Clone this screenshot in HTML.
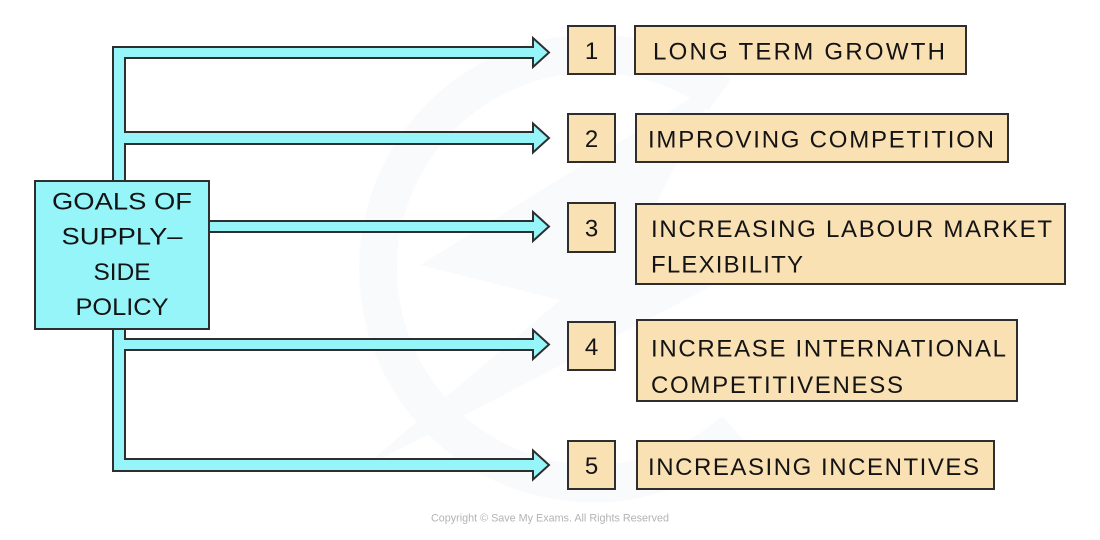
<!DOCTYPE html>
<html>
<head>
<meta charset="utf-8">
<style>
  html, body { margin: 0; padding: 0; background: #ffffff; }
  body { width: 1100px; height: 540px; overflow: hidden; }
  svg { display: block; }
  text { font-family: "Liberation Sans", "DejaVu Sans", sans-serif; fill: #141414; }
</style>
</head>
<body>
<svg width="1100" height="540" viewBox="0 0 1100 540" xmlns="http://www.w3.org/2000/svg">
  <!-- faint watermark -->
  <g opacity="0.3">
    <path d="M720,95 A215,215 0 1,0 735,430" fill="none" stroke="#eef1f5" stroke-width="38"/>
    <polygon points="720,80 420,265 560,300 360,470 800,240 650,215" fill="#eef1f5"/>
  </g>

  <!-- main pipe with arrows 1,2,4,5 -->
  <path d="M113,47 L533,47 L533,38 L549,52.5 L533,67 L533,58 L125,58
           L125,132 L533,132 L533,123.5 L549,138 L533,152.5 L533,144 L125,144
           L125,339 L533,339 L533,330 L549,344.5 L533,359 L533,350 L125,350
           L125,459 L533,459 L533,450.5 L549,465 L533,479.5 L533,471 L113,471 Z"
        fill="#96f5f9" stroke="#2e2e2e" stroke-width="2" stroke-linejoin="miter"/>

  <!-- arrow 3 from box -->
  <path d="M200,221 L533,221 L533,212 L549,226.5 L533,241 L533,232 L200,232 Z"
        fill="#96f5f9" stroke="#2e2e2e" stroke-width="2"/>

  <!-- left box -->
  <rect x="35" y="181" width="174" height="148" fill="#96f5f9" stroke="#2e2e2e" stroke-width="2"/>
  <text x="122" y="209.5" font-size="24" text-anchor="middle" textLength="140" lengthAdjust="spacingAndGlyphs">GOALS OF</text>
  <text x="122" y="244.5" font-size="24" text-anchor="middle" textLength="121" lengthAdjust="spacingAndGlyphs">SUPPLY–</text>
  <text x="122" y="280" font-size="24" text-anchor="middle" textLength="57" lengthAdjust="spacingAndGlyphs">SIDE</text>
  <text x="122" y="315" font-size="24" text-anchor="middle" textLength="93" lengthAdjust="spacingAndGlyphs">POLICY</text>

  <!-- number boxes -->
  <g fill="#f9e1b4" stroke="#2e2e2e" stroke-width="2">
    <rect x="568" y="26" width="47" height="48"/>
    <rect x="568" y="114" width="47" height="48"/>
    <rect x="568" y="203" width="47" height="49"/>
    <rect x="568" y="322" width="47" height="48"/>
    <rect x="568" y="441" width="47" height="48"/>
  </g>
  <g font-size="24" text-anchor="middle">
    <text x="591.5" y="59">1</text>
    <text x="591.5" y="147">2</text>
    <text x="591.5" y="236.5">3</text>
    <text x="591.5" y="355">4</text>
    <text x="591.5" y="474">5</text>
  </g>

  <!-- text boxes -->
  <g fill="#f9e1b4" stroke="#2e2e2e" stroke-width="2">
    <rect x="635" y="26" width="331" height="48"/>
    <rect x="636" y="114" width="372" height="48"/>
    <rect x="636" y="204" width="429" height="80"/>
    <rect x="637" y="320" width="380" height="81"/>
    <rect x="637" y="441" width="357" height="48"/>
  </g>
  <g font-size="24">
    <text x="653" y="59.5" textLength="292" lengthAdjust="spacing">LONG TERM GROWTH</text>
    <text x="648" y="147.5" textLength="346" lengthAdjust="spacing">IMPROVING COMPETITION</text>
    <text x="651" y="237" textLength="401" lengthAdjust="spacing">INCREASING LABOUR MARKET</text>
    <text x="651" y="272.5" textLength="152" lengthAdjust="spacing">FLEXIBILITY</text>
    <text x="651" y="356.5" textLength="355" lengthAdjust="spacing">INCREASE INTERNATIONAL</text>
    <text x="651" y="393" textLength="252" lengthAdjust="spacing">COMPETITIVENESS</text>
    <text x="648" y="475" textLength="331" lengthAdjust="spacing">INCREASING INCENTIVES</text>
  </g>

  <!-- copyright -->
  <text x="550" y="521.5" font-size="11" text-anchor="middle" style="fill:#b3b3b3" textLength="238" lengthAdjust="spacingAndGlyphs">Copyright © Save My Exams. All Rights Reserved</text>
</svg>
</body>
</html>
